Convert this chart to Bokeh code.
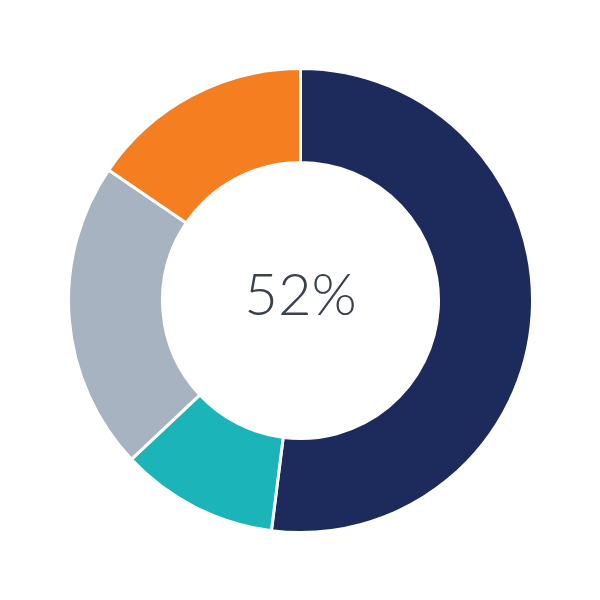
import numpy as np
from bokeh.plotting import figure
from bokeh.models import ColumnDataSource
from bokeh.core.properties import value
from bokeh.embed import file_html
from bokeh.resources import INLINE

categories = ["Navy", "Teal", "Gray", "Orange"]
values = [52, 11, 21.5, 15.5]
colors = ["#1c2b5b", "#1bb4b8", "#a8b3c1", "#f47e20"]
center_label = "52%"

vals = np.array(values, dtype=float)
cum = np.cumsum(vals) / vals.sum()
prev = np.concatenate([[0.0], cum[:-1]])
start = np.pi / 2 - 2 * np.pi * prev
end = np.pi / 2 - 2 * np.pi * cum

src = ColumnDataSource(dict(cat=categories, val=values, color=colors,
                            start=start, end=end))

W = 584
p = figure(width=W, height=W, output_backend="svg", toolbar_location=None,
           x_range=(-300, 284), y_range=(-284, 300), min_border=0)
p.axis.visible = False
p.grid.visible = False
p.outline_line_color = None
p.background_fill_color = "white"
p.border_fill_color = "white"

p.annular_wedge(x=0, y=0, inner_radius=138, outer_radius=232,
                start_angle="start", end_angle="end", direction="clock",
                fill_color="color", line_color="white", line_width=3,
                source=src)

p.text(x=[0], y=[0], text=[center_label], text_align="center",
       text_baseline="middle", y_offset=-8, text_font=value("Lato Light, Lato"),
       text_font_size="58px", text_color="#39414d")

open("out.html", "w").write(file_html(p, INLINE))
